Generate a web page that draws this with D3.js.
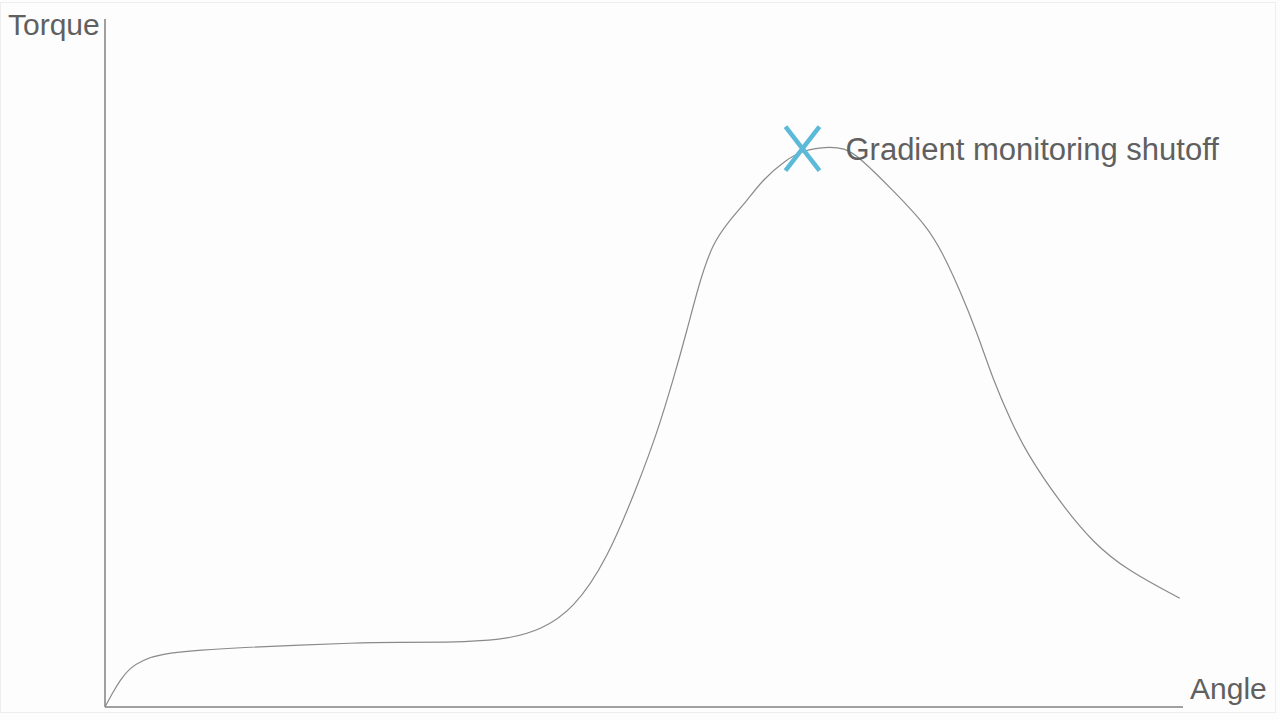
<!DOCTYPE html>
<html>
<head>
<meta charset="utf-8">
<script src="https://cdn.jsdelivr.net/npm/d3@7"></script>
<style>
  html, body { margin: 0; padding: 0; background: #fdfdfd; }
  svg { display: block; font-family: "Liberation Sans", Arial, sans-serif; }
</style>
</head>
<body>
<script>
// angle / torque readings (arbitrary units, 0-100)
var angle = [0, 0.65, 1.4, 2.3, 3.5, 5.1, 8.8, 13.5, 18.1, 22.7, 27.4, 32.0, 34.8, 37.6, 40.4,
  43.4, 46.6, 49.6, 51.2, 52.7, 54.0, 55.2, 56.4, 57.7, 59.6, 61.0, 63.1, 64.9, 66.8, 68.6,
  70.0, 73.1, 76.3, 77.7, 79.3, 80.9, 82.4, 84.0, 85.5, 88.6, 91.7, 94.8, 99.7];
var torque = [0, 1.9, 3.9, 5.7, 6.8, 7.7, 8.3, 8.7, 9.0, 9.3, 9.4, 9.4, 9.6, 10.0, 11.2,
  14.1, 21.4, 33.0, 39.8, 47.5, 54.8, 62.1, 67.4, 70.3, 73.7, 76.6, 79.5, 81.0, 81.4, 81.3,
  79.9, 75.1, 69.8, 66.0, 60.6, 54.4, 47.5, 41.7, 36.9, 29.7, 23.8, 19.9, 15.8];

var shutoff = {angle: 64.7, torque: 81.0, label: 'Gradient monitoring shutoff'};
var axisLabels = {x: 'Angle', y: 'Torque'};

var width = 1280, height = 720;

var svg = d3.select('body').append('svg')
  .attr('width', width)
  .attr('height', height);

// faint slide frame
svg.append('rect')
  .attr('x', 0.5).attr('y', 2.5)
  .attr('width', 1275).attr('height', 710)
  .attr('fill', 'none')
  .attr('stroke', '#eeeeee');

var x = d3.scaleLinear().domain([0, 100]).range([105, 1183]);
var y = d3.scaleLinear().domain([0, 100]).range([707, 19]);

// axes (plain lines, no ticks)
svg.append('line')
  .attr('x1', x(0)).attr('y1', y(0))
  .attr('x2', x(0)).attr('y2', y(100))
  .attr('stroke', '#a0a0a0').attr('stroke-width', 2);

svg.append('line')
  .attr('x1', x(0)).attr('y1', y(0))
  .attr('x2', x(100)).attr('y2', y(0))
  .attr('stroke', '#a0a0a0').attr('stroke-width', 2);

var points = angle.map(function(a, i) { return {a: a, t: torque[i]}; });

var line = d3.line()
  .x(function(d) { return x(d.a); })
  .y(function(d) { return y(d.t); })
  .curve(d3.curveBasis);

svg.append('path')
  .datum(points)
  .attr('d', line)
  .attr('fill', 'none')
  .attr('stroke', '#8a8a8a')
  .attr('stroke-width', 1.2);

// shutoff marker
var mx = x(shutoff.angle), my = y(shutoff.torque);
var cross = svg.append('g').attr('transform', 'translate(' + mx + ',' + my + ')');
cross.append('line')
  .attr('x1', -17).attr('y1', -23).attr('x2', 17).attr('y2', 21)
  .attr('stroke', '#5bbad8').attr('stroke-width', 4.5);
cross.append('line')
  .attr('x1', 17).attr('y1', -23).attr('x2', -17).attr('y2', 21)
  .attr('stroke', '#5bbad8').attr('stroke-width', 4.5);

svg.append('text')
  .attr('x', mx + 43)
  .attr('y', my + 10)
  .attr('fill', '#606060')
  .style('font-size', '31px')
  .text(shutoff.label);

svg.append('text')
  .attr('x', 8)
  .attr('y', 35)
  .attr('fill', '#606060')
  .style('font-size', '30px')
  .text(axisLabels.y);

svg.append('text')
  .attr('x', 1190)
  .attr('y', 699)
  .attr('fill', '#606060')
  .style('font-size', '30px')
  .text(axisLabels.x);
</script>
</body>
</html>
